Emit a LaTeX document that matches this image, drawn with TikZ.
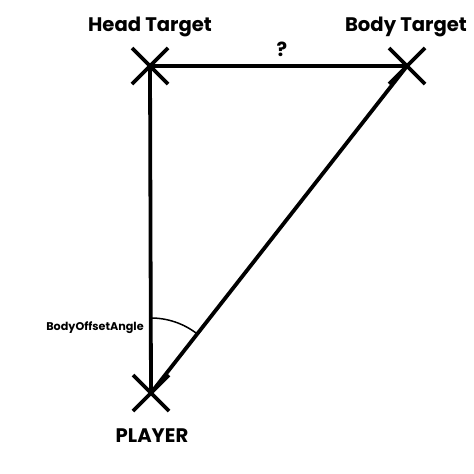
\documentclass[tikz,border=0pt]{standalone}
\usepackage{fontspec}
\setmainfont{Poppins}
\usetikzlibrary{calc}
\begin{document}
\begin{tikzpicture}[x=1pt,y=-1pt,
  ln/.style={line width=3.8pt},
  xmark/.style={line width=3.8pt},
  big/.style={font=\fontsize{19.6}{22}\selectfont\bfseries},
  small/.style={font=\fontsize{11.2}{13}\selectfont\bfseries}]
\useasboundingbox[fill=white] (0,0) rectangle (474,474);
\coordinate (H) at (150,66);
\coordinate (B) at (407,66);
\coordinate (P) at (151,393);
\foreach \c in {H,B,P}{
  \draw[xmark] ($(\c)+(-18,-18)$) -- ($(\c)+(18,18)$);
  \draw[xmark] ($(\c)+(-18,18)$) -- ($(\c)+(18,-18)$);
}
\draw[ln] (H) -- (B);
\draw[ln] (H) -- (P);
\draw[ln] (B) -- (P);
\draw[line width=1.5pt] ($(P)+(0,-75)$) arc[start angle=-90,end angle=-52,radius=75];
\node[big] (ht) at (150,27) {Head Target};
\node[big] (bt) at (406,27) {Body Target};
\node[big] (q) at (282,49) {?};
\node[big] (pl) at (152,436) {PLAYER};
\node[small] (boa) at (95,328) {BodyOffsetAngle};
\end{tikzpicture}
\end{document}
